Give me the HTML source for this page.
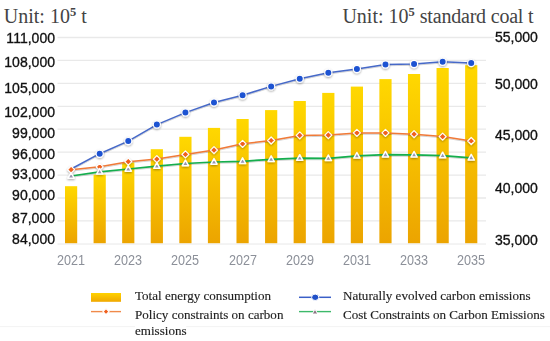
<!DOCTYPE html><html><head><meta charset="utf-8"><style>
html,body{margin:0;padding:0;background:#fff;}
body{width:550px;height:341px;position:relative;overflow:hidden;}
svg{position:absolute;left:0;top:0;}
.t{position:absolute;white-space:nowrap;}
.ser{font-family:"Liberation Serif",serif;color:#444;}
.lab{font-family:"Liberation Sans",sans-serif;color:#111;font-size:15.5px;line-height:15px;-webkit-text-stroke:0.35px #111;}
.ll{text-align:right;width:80px;transform-origin:100% 50%;transform:scaleX(0.905);}
.rl{transform-origin:0 50%;transform:scaleX(0.905);}
.yr{font-family:"Liberation Sans",sans-serif;color:#8c9099;font-size:14px;line-height:14px;width:60px;text-align:center;transform:scaleX(0.9);}
.leg{font-family:"Liberation Serif",serif;color:#1e1e1e;font-size:13.5px;line-height:15px;transform-origin:0 0;transform:scaleX(0.968);-webkit-text-stroke:0.15px #1e1e1e;}
sup{font-size:12.5px;vertical-align:0;position:relative;top:-7.8px;font-weight:bold;}
</style></head><body>

<svg width="550" height="341" viewBox="0 0 550 341"><defs><linearGradient id="bg" x1="0" y1="0" x2="0" y2="1"><stop offset="0" stop-color="#FFD800"/><stop offset="1" stop-color="#ECA400"/></linearGradient><linearGradient id="lg" x1="0" y1="0" x2="0" y2="1"><stop offset="0" stop-color="#FFD200"/><stop offset="1" stop-color="#F0A800"/></linearGradient><filter id="sh" x="-50%" y="-50%" width="200%" height="200%"><feGaussianBlur in="SourceAlpha" stdDeviation="0.8"/><feOffset dy="1.2"/><feComponentTransfer><feFuncA type="linear" slope="0.35"/></feComponentTransfer><feMerge><feMergeNode/><feMergeNode in="SourceGraphic"/></feMerge></filter><filter id="lsh" x="-10%" y="-50%" width="120%" height="200%"><feGaussianBlur in="SourceAlpha" stdDeviation="0.7"/><feOffset dy="1.3"/><feComponentTransfer><feFuncA type="linear" slope="0.18"/></feComponentTransfer><feMerge><feMergeNode/><feMergeNode in="SourceGraphic"/></feMerge></filter></defs><line x1="57.5" y1="37.5" x2="494" y2="37.5" stroke="#e9e9e9" stroke-width="1.3"/><line x1="57.5" y1="60.4" x2="486" y2="60.4" stroke="#e9e9e9" stroke-width="1.3"/><line x1="57.5" y1="83.4" x2="486" y2="83.4" stroke="#e9e9e9" stroke-width="1.3"/><line x1="57.5" y1="106.3" x2="486" y2="106.3" stroke="#e9e9e9" stroke-width="1.3"/><line x1="57.5" y1="129.2" x2="486" y2="129.2" stroke="#e9e9e9" stroke-width="1.3"/><line x1="57.5" y1="152.2" x2="486" y2="152.2" stroke="#e9e9e9" stroke-width="1.3"/><line x1="57.5" y1="175.1" x2="486" y2="175.1" stroke="#e9e9e9" stroke-width="1.3"/><line x1="57.5" y1="198.0" x2="486" y2="198.0" stroke="#e9e9e9" stroke-width="1.3"/><line x1="57.5" y1="220.9" x2="486" y2="220.9" stroke="#e9e9e9" stroke-width="1.3"/><line x1="57.5" y1="244" x2="486" y2="244" stroke="#e8e8e8" stroke-width="1"/><rect x="65.00" y="186.20" width="12.20" height="57.00" fill="url(#bg)"/><rect x="93.58" y="174.70" width="12.20" height="68.50" fill="url(#bg)"/><rect x="122.16" y="162.50" width="12.20" height="80.70" fill="url(#bg)"/><rect x="150.74" y="149.20" width="12.20" height="94.00" fill="url(#bg)"/><rect x="179.32" y="136.80" width="12.20" height="106.40" fill="url(#bg)"/><rect x="207.90" y="127.90" width="12.20" height="115.30" fill="url(#bg)"/><rect x="236.48" y="119.00" width="12.20" height="124.20" fill="url(#bg)"/><rect x="265.06" y="110.10" width="12.20" height="133.10" fill="url(#bg)"/><rect x="293.64" y="101.00" width="12.20" height="142.20" fill="url(#bg)"/><rect x="322.22" y="92.90" width="12.20" height="150.30" fill="url(#bg)"/><rect x="350.80" y="86.60" width="12.20" height="156.60" fill="url(#bg)"/><rect x="379.38" y="79.10" width="12.20" height="164.10" fill="url(#bg)"/><rect x="407.96" y="74.00" width="12.20" height="169.20" fill="url(#bg)"/><rect x="436.54" y="68.00" width="12.20" height="175.20" fill="url(#bg)"/><rect x="465.12" y="65.20" width="12.20" height="178.00" fill="url(#bg)"/><path d="M71.10 169.00 L99.68 153.70 L128.26 141.10 L156.84 124.60 L185.42 112.60 L214.00 102.50 L242.58 95.20 L271.16 86.40 L299.74 78.80 L328.32 72.80 L356.90 69.00 L385.48 64.60 L414.06 64.00 L442.64 61.70 L471.22 63.10" fill="none" stroke="#4669C8" stroke-width="1.5" stroke-linejoin="round" filter="url(#lsh)"/><g filter="url(#sh)"><circle cx="99.68" cy="153.70" r="3.6" fill="#1F52D2" stroke="#fff" stroke-width="1.2"/><circle cx="128.26" cy="141.10" r="3.6" fill="#1F52D2" stroke="#fff" stroke-width="1.2"/><circle cx="156.84" cy="124.60" r="3.6" fill="#1F52D2" stroke="#fff" stroke-width="1.2"/><circle cx="185.42" cy="112.60" r="3.6" fill="#1F52D2" stroke="#fff" stroke-width="1.2"/><circle cx="214.00" cy="102.50" r="3.6" fill="#1F52D2" stroke="#fff" stroke-width="1.2"/><circle cx="242.58" cy="95.20" r="3.6" fill="#1F52D2" stroke="#fff" stroke-width="1.2"/><circle cx="271.16" cy="86.40" r="3.6" fill="#1F52D2" stroke="#fff" stroke-width="1.2"/><circle cx="299.74" cy="78.80" r="3.6" fill="#1F52D2" stroke="#fff" stroke-width="1.2"/><circle cx="328.32" cy="72.80" r="3.6" fill="#1F52D2" stroke="#fff" stroke-width="1.2"/><circle cx="356.90" cy="69.00" r="3.6" fill="#1F52D2" stroke="#fff" stroke-width="1.2"/><circle cx="385.48" cy="64.60" r="3.6" fill="#1F52D2" stroke="#fff" stroke-width="1.2"/><circle cx="414.06" cy="64.00" r="3.6" fill="#1F52D2" stroke="#fff" stroke-width="1.2"/><circle cx="442.64" cy="61.70" r="3.6" fill="#1F52D2" stroke="#fff" stroke-width="1.2"/><circle cx="471.22" cy="63.10" r="3.6" fill="#1F52D2" stroke="#fff" stroke-width="1.2"/></g><path d="M71.10 169.70 L99.68 166.80 L128.26 161.70 L156.84 159.10 L185.42 154.40 L214.00 150.10 L242.58 143.80 L271.16 140.50 L299.74 135.40 L328.32 135.10 L356.90 132.90 L385.48 132.90 L414.06 134.20 L442.64 136.60 L471.22 141.00" fill="none" stroke="#F07A38" stroke-width="1.5" stroke-linejoin="round" filter="url(#lsh)"/><g filter="url(#sh)"><path d="M71.10 166.20 L74.60 169.70 L71.10 173.20 L67.60 169.70 Z" fill="#F0601E" stroke="#fff" stroke-width="1.2" stroke-linejoin="round"/><path d="M99.68 163.30 L103.18 166.80 L99.68 170.30 L96.18 166.80 Z" fill="#F0601E" stroke="#fff" stroke-width="1.2" stroke-linejoin="round"/><path d="M128.26 158.20 L131.76 161.70 L128.26 165.20 L124.76 161.70 Z" fill="#F0601E" stroke="#fff" stroke-width="1.2" stroke-linejoin="round"/><path d="M156.84 155.60 L160.34 159.10 L156.84 162.60 L153.34 159.10 Z" fill="#F0601E" stroke="#fff" stroke-width="1.2" stroke-linejoin="round"/><path d="M185.42 150.90 L188.92 154.40 L185.42 157.90 L181.92 154.40 Z" fill="#F0601E" stroke="#fff" stroke-width="1.2" stroke-linejoin="round"/><path d="M214.00 146.60 L217.50 150.10 L214.00 153.60 L210.50 150.10 Z" fill="#F0601E" stroke="#fff" stroke-width="1.2" stroke-linejoin="round"/><path d="M242.58 140.30 L246.08 143.80 L242.58 147.30 L239.08 143.80 Z" fill="#F0601E" stroke="#fff" stroke-width="1.2" stroke-linejoin="round"/><path d="M271.16 137.00 L274.66 140.50 L271.16 144.00 L267.66 140.50 Z" fill="#F0601E" stroke="#fff" stroke-width="1.2" stroke-linejoin="round"/><path d="M299.74 131.90 L303.24 135.40 L299.74 138.90 L296.24 135.40 Z" fill="#F0601E" stroke="#fff" stroke-width="1.2" stroke-linejoin="round"/><path d="M328.32 131.60 L331.82 135.10 L328.32 138.60 L324.82 135.10 Z" fill="#F0601E" stroke="#fff" stroke-width="1.2" stroke-linejoin="round"/><path d="M356.90 129.40 L360.40 132.90 L356.90 136.40 L353.40 132.90 Z" fill="#F0601E" stroke="#fff" stroke-width="1.2" stroke-linejoin="round"/><path d="M385.48 129.40 L388.98 132.90 L385.48 136.40 L381.98 132.90 Z" fill="#F0601E" stroke="#fff" stroke-width="1.2" stroke-linejoin="round"/><path d="M414.06 130.70 L417.56 134.20 L414.06 137.70 L410.56 134.20 Z" fill="#F0601E" stroke="#fff" stroke-width="1.2" stroke-linejoin="round"/><path d="M442.64 133.10 L446.14 136.60 L442.64 140.10 L439.14 136.60 Z" fill="#F0601E" stroke="#fff" stroke-width="1.2" stroke-linejoin="round"/><path d="M471.22 137.50 L474.72 141.00 L471.22 144.50 L467.72 141.00 Z" fill="#F0601E" stroke="#fff" stroke-width="1.2" stroke-linejoin="round"/></g><path d="M71.10 176.00 L99.68 171.90 L128.26 169.00 L156.84 166.10 L185.42 163.50 L214.00 162.00 L242.58 161.30 L271.16 159.30 L299.74 158.10 L328.32 158.40 L356.90 155.90 L385.48 154.70 L414.06 154.90 L442.64 155.60 L471.22 157.80" fill="none" stroke="#14AE4E" stroke-width="1.7" stroke-linejoin="round" filter="url(#lsh)"/><g filter="url(#sh)"><path d="M71.10 172.60 L74.20 178.20 L68.00 178.20 Z" fill="#9794b0" stroke="#fff" stroke-width="1.5" stroke-linejoin="round"/><path d="M99.68 168.50 L102.78 174.10 L96.58 174.10 Z" fill="#9794b0" stroke="#fff" stroke-width="1.5" stroke-linejoin="round"/><path d="M128.26 165.60 L131.36 171.20 L125.16 171.20 Z" fill="#9794b0" stroke="#fff" stroke-width="1.5" stroke-linejoin="round"/><path d="M156.84 162.70 L159.94 168.30 L153.74 168.30 Z" fill="#9794b0" stroke="#fff" stroke-width="1.5" stroke-linejoin="round"/><path d="M185.42 160.10 L188.52 165.70 L182.32 165.70 Z" fill="#9794b0" stroke="#fff" stroke-width="1.5" stroke-linejoin="round"/><path d="M214.00 158.60 L217.10 164.20 L210.90 164.20 Z" fill="#9794b0" stroke="#fff" stroke-width="1.5" stroke-linejoin="round"/><path d="M242.58 157.90 L245.68 163.50 L239.48 163.50 Z" fill="#9794b0" stroke="#fff" stroke-width="1.5" stroke-linejoin="round"/><path d="M271.16 155.90 L274.26 161.50 L268.06 161.50 Z" fill="#9794b0" stroke="#fff" stroke-width="1.5" stroke-linejoin="round"/><path d="M299.74 154.70 L302.84 160.30 L296.64 160.30 Z" fill="#9794b0" stroke="#fff" stroke-width="1.5" stroke-linejoin="round"/><path d="M328.32 155.00 L331.42 160.60 L325.22 160.60 Z" fill="#9794b0" stroke="#fff" stroke-width="1.5" stroke-linejoin="round"/><path d="M356.90 152.50 L360.00 158.10 L353.80 158.10 Z" fill="#9794b0" stroke="#fff" stroke-width="1.5" stroke-linejoin="round"/><path d="M385.48 151.30 L388.58 156.90 L382.38 156.90 Z" fill="#9794b0" stroke="#fff" stroke-width="1.5" stroke-linejoin="round"/><path d="M414.06 151.50 L417.16 157.10 L410.96 157.10 Z" fill="#9794b0" stroke="#fff" stroke-width="1.5" stroke-linejoin="round"/><path d="M442.64 152.20 L445.74 157.80 L439.54 157.80 Z" fill="#9794b0" stroke="#fff" stroke-width="1.5" stroke-linejoin="round"/><path d="M471.22 154.40 L474.32 160.00 L468.12 160.00 Z" fill="#9794b0" stroke="#fff" stroke-width="1.5" stroke-linejoin="round"/></g><rect x="91" y="293" width="30" height="8.8" fill="url(#lg)"/><line x1="91" y1="311.6" x2="121" y2="311.6" stroke="#F08A4A" stroke-width="1.4"/><path d="M106 308.6 L109 311.6 L106 314.6 L103 311.6Z" fill="#F0601E" stroke="#fff" stroke-width="1.2"/><line x1="299" y1="297.3" x2="331" y2="297.3" stroke="#3A5FC8" stroke-width="1.5"/><ellipse cx="315.2" cy="297.3" rx="3.6" ry="3.2" fill="#2050C8" stroke="#fff" stroke-width="1"/><line x1="299" y1="311.6" x2="331" y2="311.6" stroke="#3CB96A" stroke-width="1.4"/><path d="M315 309.2 L317.8 314 L312.2 314Z" fill="#8a7382" stroke="#fff" stroke-width="1"/><line x1="0" y1="326.6" x2="550" y2="326.6" stroke="#f3f3f3" stroke-width="1"/></svg>
<div class="t ser" style="left:3.8px;top:5.3px;font-size:20px;line-height:22px;">Unit: 10<sup>5</sup> t</div>
<div class="t ser" style="left:342.4px;top:5.3px;font-size:20px;line-height:22px;">Unit: 10<sup>5</sup> <span style='letter-spacing:-0.2px'>standard coal t</span></div>
<div class="t lab ll" style="left:-25.2px;top:29.7px;">111,000</div>
<div class="t lab ll" style="left:-25.2px;top:53.7px;">108,000</div>
<div class="t lab ll" style="left:-25.2px;top:79.9px;">105,000</div>
<div class="t lab ll" style="left:-25.2px;top:103.7px;">102,000</div>
<div class="t lab ll" style="left:-25.2px;top:124.5px;">99,000</div>
<div class="t lab ll" style="left:-25.2px;top:145.8px;">96,000</div>
<div class="t lab ll" style="left:-25.2px;top:166.2px;">93,000</div>
<div class="t lab ll" style="left:-25.2px;top:186.8px;">90,000</div>
<div class="t lab ll" style="left:-25.2px;top:210.2px;">87,000</div>
<div class="t lab ll" style="left:-25.2px;top:231.3px;">84,000</div>
<div class="t lab rl" style="left:494.8px;top:29.4px;">55,000</div>
<div class="t lab rl" style="left:494.8px;top:76.4px;">50,000</div>
<div class="t lab rl" style="left:494.8px;top:127.0px;">45,000</div>
<div class="t lab rl" style="left:494.8px;top:179.6px;">40,000</div>
<div class="t lab rl" style="left:494.8px;top:231.5px;">35,000</div>
<div class="t yr" style="left:41.1px;top:253px;">2021</div>
<div class="t yr" style="left:98.3px;top:253px;">2023</div>
<div class="t yr" style="left:155.4px;top:253px;">2025</div>
<div class="t yr" style="left:212.6px;top:253px;">2027</div>
<div class="t yr" style="left:269.7px;top:253px;">2029</div>
<div class="t yr" style="left:326.9px;top:253px;">2031</div>
<div class="t yr" style="left:384.1px;top:253px;">2033</div>
<div class="t yr" style="left:441.2px;top:253px;">2035</div>
<div class="t leg" style="left:135.2px;top:287.5px;">Total energy consumption</div>
<div class="t leg" style="left:135.2px;top:306.7px;line-height:16px;">Policy constraints on carbon<br><span style='background:#fff'>emissions</span></div>
<div class="t leg" style="left:342.5px;top:287.5px;">Naturally evolved carbon emissions</div>
<div class="t leg" style="left:342.5px;top:307.2px;">Cost Constraints on Carbon Emissions</div>
</body></html>
